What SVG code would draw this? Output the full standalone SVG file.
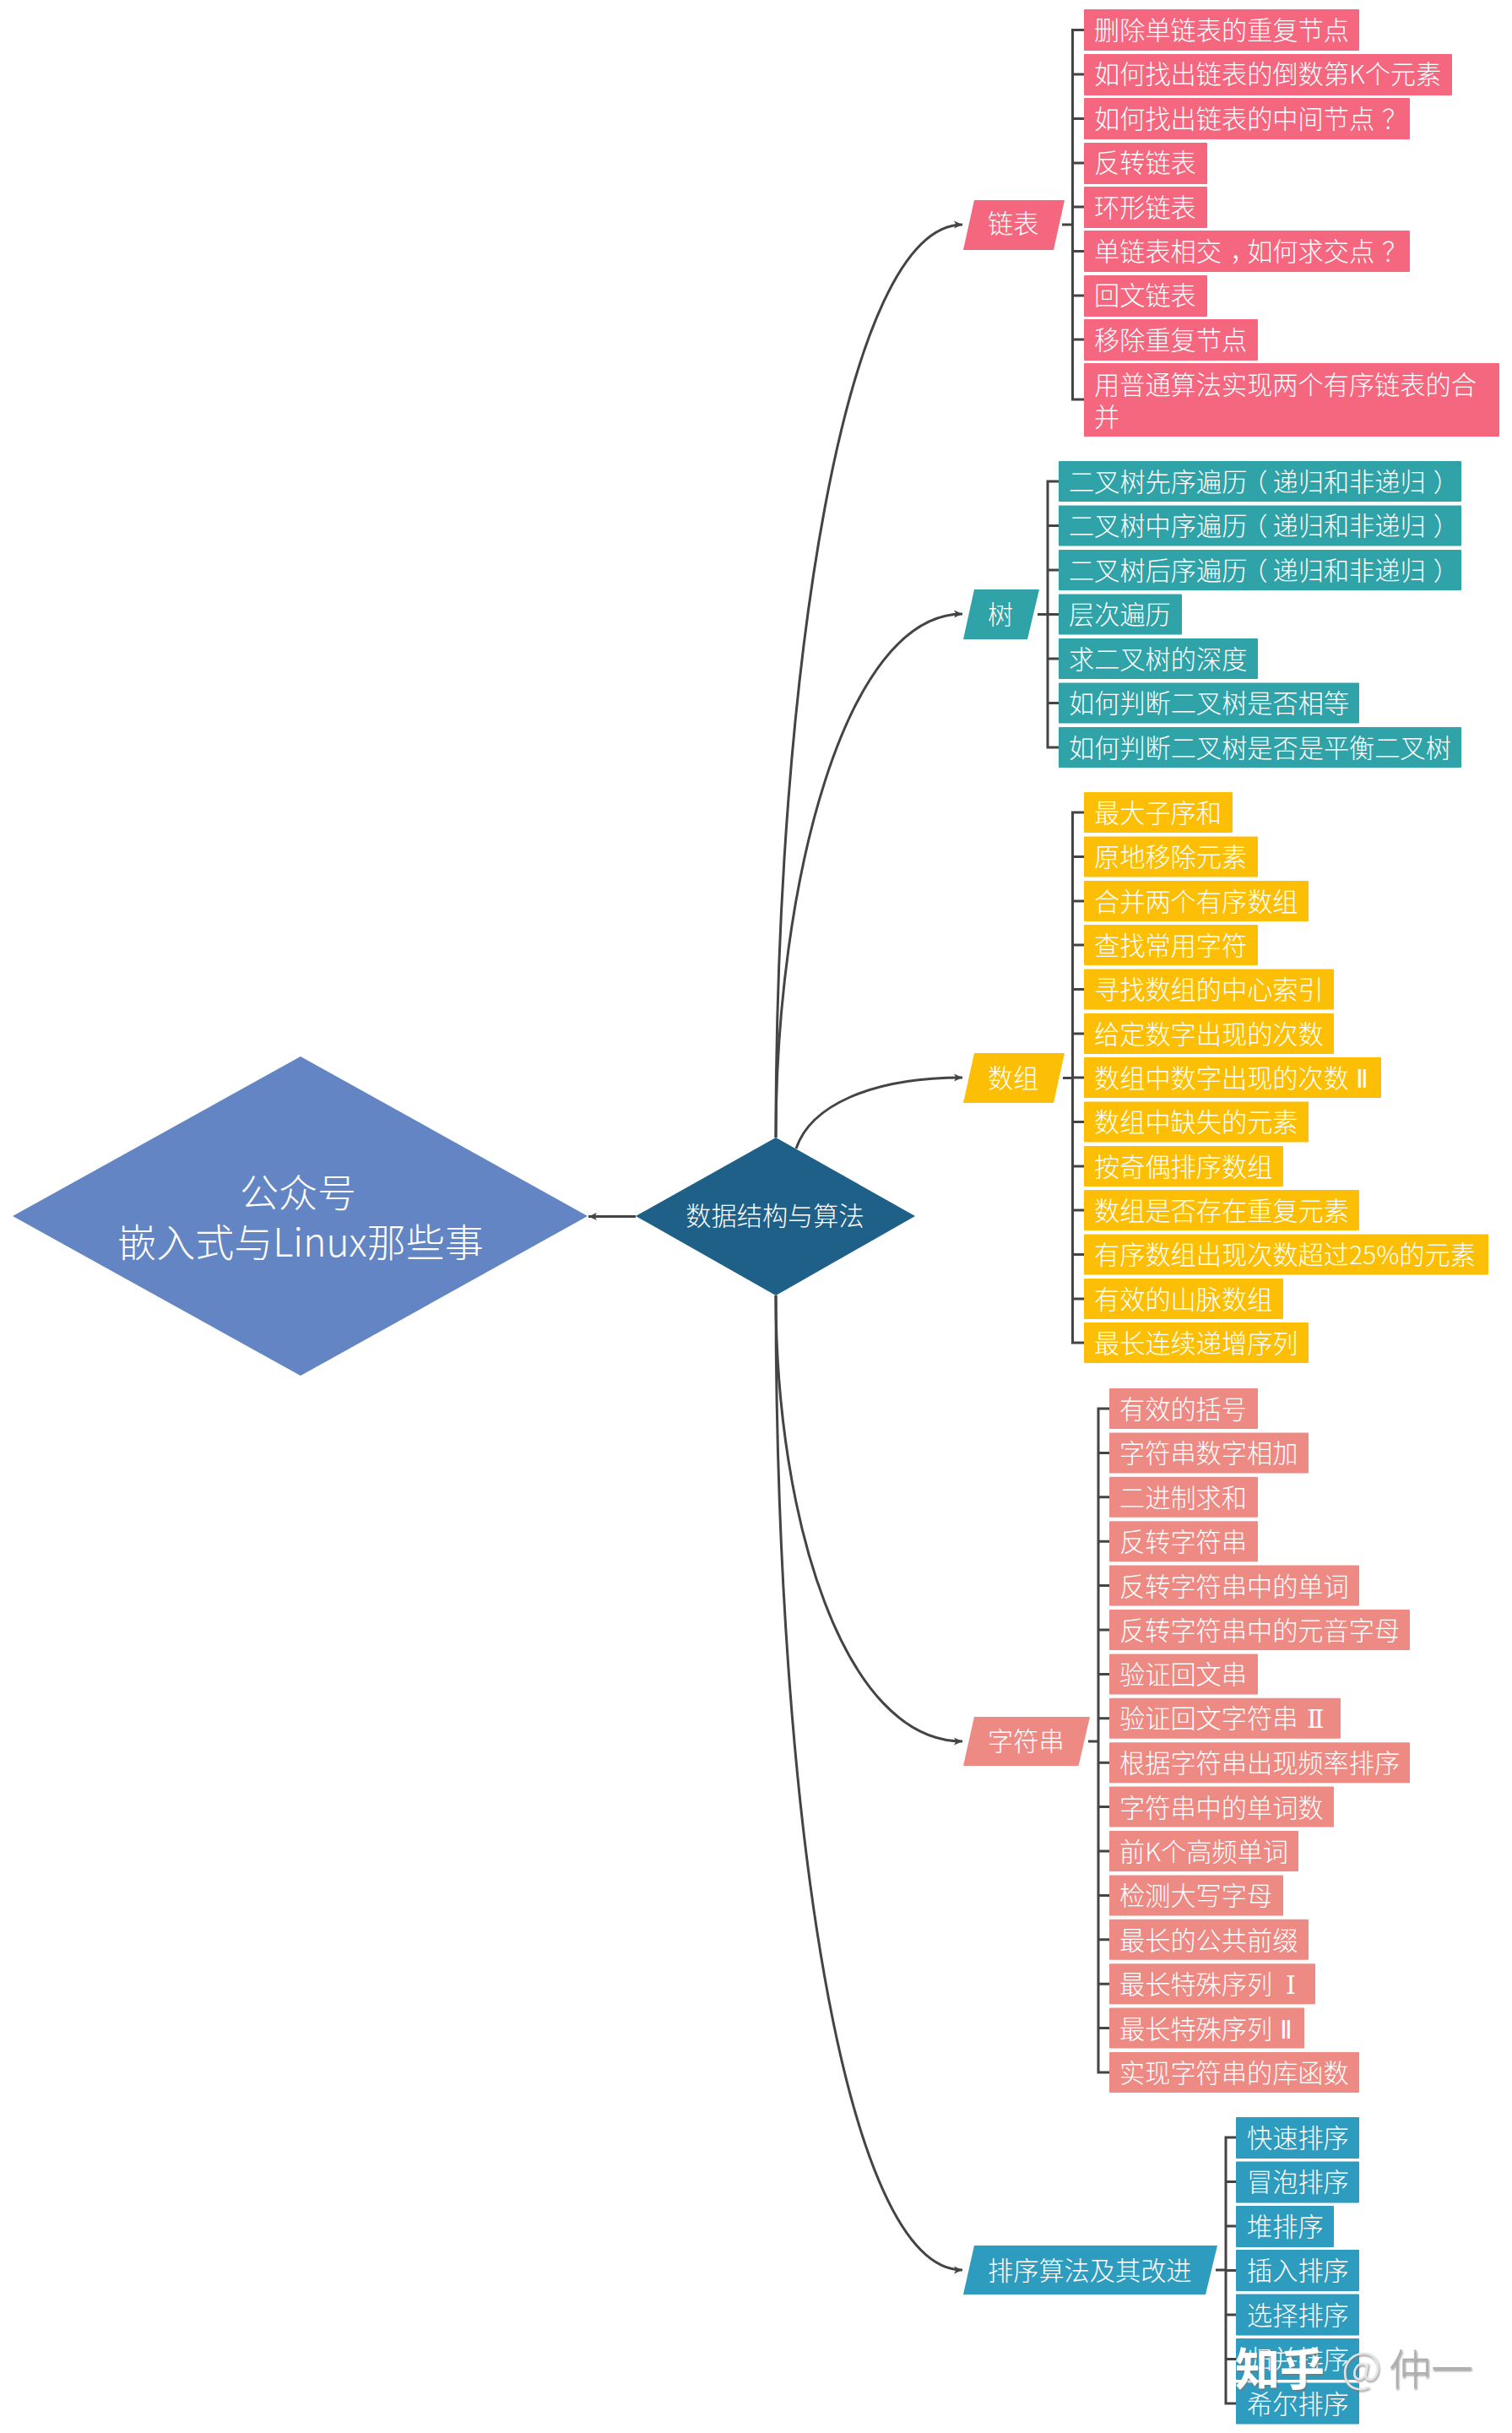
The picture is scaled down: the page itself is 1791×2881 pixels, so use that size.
<svg xmlns="http://www.w3.org/2000/svg" width="1791" height="2881" viewBox="0 0 1791 2881">
<style>
text{font-family:"Noto Sans CJK SC","Liberation Sans",sans-serif;font-weight:300;fill:#fff;font-size:30.2px}
.c{fill:none;stroke:#444;stroke-width:3}
.a{marker-end:url(#ah)}
.lk{fill:#f5667f}.tr{fill:#2fa3a8}.ar{fill:#fdbf05}.st{fill:#ee8a84}.so{fill:#2e9cbe}
.m{text-anchor:middle}
.rn{font-family:"DejaVu Serif",serif}
.rn2{font-family:"Liberation Serif",serif}
</style>
<defs>
<marker id="ah" markerUnits="userSpaceOnUse" markerWidth="12" markerHeight="12" refX="10" refY="6" orient="auto"><path d="M0 1.500L10 6L0 10.500L2.500 6Z" fill="#444"/></marker>
<filter id="sh" x="-10%" y="-10%" width="120%" height="120%"><feDropShadow dx="1" dy="2" stdDeviation="1" flood-color="#777" flood-opacity=".8"/></filter>
</defs>
<g id="connectors">
<path class="c a" d="M753 1440.500H697"/>
<path class="c a" d="M919 1347C919 800 1000 266 1140 266"/>
<path class="c a" d="M919 1347C919 1050 1000 727 1140 727"/>
<path class="c a" d="M943 1360C960 1310 1030 1276 1140 1276"/>
<path class="c a" d="M919 1534C919 1800 1000 2062 1140 2062"/>
<path class="c a" d="M919 1534C919 2150 1000 2688 1140 2688"/>
<path class="c" d="M1258 266H1270.500M1284 35.500H1270.500V473H1284M1270.500 88H1284M1270.500 140.500H1284M1270.500 193H1284M1270.500 245H1284M1270.500 297.500H1284M1270.500 350H1284M1270.500 402H1284"/>
<path class="c" d="M1229 727.500H1241M1254 570H1241V885H1254M1241 622.500H1254M1241 675H1254M1241 727.500H1254M1241 780H1254M1241 832.500H1254"/>
<path class="c" d="M1259 1276.500H1270.500M1284 962H1270.500V1590H1284M1270.500 1014.500H1284M1270.500 1067H1284M1270.500 1119H1284M1270.500 1171.500H1284M1270.500 1224H1284M1270.500 1276H1284M1270.500 1328.500H1284M1270.500 1381H1284M1270.500 1433H1284M1270.500 1485.500H1284M1270.500 1538H1284"/>
<path class="c" d="M1289 2062H1301M1314 1668H1301V2454H1314M1301 1720.400H1314M1301 1772.800H1314M1301 1825.200H1314M1301 1877.600H1314M1301 1930H1314M1301 1982.400H1314M1301 2034.800H1314M1301 2087.200H1314M1301 2139.600H1314M1301 2192H1314M1301 2244.400H1314M1301 2296.800H1314M1301 2349.200H1314M1301 2401.600H1314"/>
<path class="c" d="M1440 2688H1452M1464 2531H1452V2846H1464M1452 2583.500H1464M1452 2636H1464M1452 2688.500H1464M1452 2741H1464M1452 2793.500H1464"/>
</g>
<g id="root"><polygon points="15,1440 356,1251 696,1440 356,1629" fill="#6385c3"/><text class="m" x="353" y="1429" style="font-size:46px">公众号</text><text class="m" x="356" y="1488" style="font-size:46px">嵌入式与Linux那些事</text></g>
<g id="center"><polygon points="753,1440 919,1347 1084,1440 919,1534" fill="#1f6089"/><text class="m" x="918" y="1451">数据结构与算法</text></g>

<g id="p-list"><polygon class="lk" points="1154,237 1261,237 1248,296 1141,296"/><text x="1170" y="276">链表</text></g>
<g id="l1"><rect class="lk" x="1284" y="11" width="326" height="49" rx="1"/><text x="1296" y="47">删除单链表的重复节点</text></g>
<g id="l2"><rect class="lk" x="1284" y="64" width="436" height="49" rx="1"/><text x="1296" y="99">如何找出链表的倒数第K个元素</text></g>
<g id="l3"><rect class="lk" x="1284" y="116" width="386" height="49" rx="1"/><text x="1296" y="152">如何找出链表的中间节点<tspan dx="9">？</tspan></text></g>
<g id="l4"><rect class="lk" x="1284" y="169" width="146" height="49" rx="1"/><text x="1296" y="204">反转链表</text></g>
<g id="l5"><rect class="lk" x="1284" y="221" width="146" height="49" rx="1"/><text x="1296" y="257">环形链表</text></g>
<g id="l6"><rect class="lk" x="1284" y="273" width="386" height="49" rx="1"/><text x="1296" y="309">单链表相交<tspan dx="10">，</tspan><tspan dx="-10">如何求交点</tspan><tspan dx="9">？</tspan></text></g>
<g id="l7"><rect class="lk" x="1284" y="326" width="146" height="49" rx="1"/><text x="1296" y="361">回文链表</text></g>
<g id="l8"><rect class="lk" x="1284" y="378" width="206" height="49" rx="1"/><text x="1296" y="414">移除重复节点</text></g>
<g id="l9"><rect class="lk" x="1284" y="430" width="492" height="87" rx="1"/><text x="1296" y="467">用普通算法实现两个有序链表的合</text><text x="1296" y="505">并</text></g>

<g id="p-tree"><polygon class="tr" points="1154,698 1231,698 1217,757 1141,757"/><text x="1170" y="739">树</text></g>
<g id="t1"><rect class="tr" x="1254" y="546" width="477" height="48" rx="1"/><text x="1266" y="582">二叉树先序遍历<tspan dx="-6">（</tspan><tspan dx="6">递归和非递归</tspan><tspan dx="9">）</tspan></text></g>
<g id="t2"><rect class="tr" x="1254" y="598.500" width="477" height="48" rx="1"/><text x="1266" y="634">二叉树中序遍历<tspan dx="-6">（</tspan><tspan dx="6">递归和非递归</tspan><tspan dx="9">）</tspan></text></g>
<g id="t3"><rect class="tr" x="1254" y="651" width="477" height="48" rx="1"/><text x="1266" y="687">二叉树后序遍历<tspan dx="-6">（</tspan><tspan dx="6">递归和非递归</tspan><tspan dx="9">）</tspan></text></g>
<g id="t4"><rect class="tr" x="1254" y="703.500" width="146" height="48" rx="1"/><text x="1266" y="739">层次遍历</text></g>
<g id="t5"><rect class="tr" x="1254" y="756" width="236" height="48" rx="1"/><text x="1266" y="792">求二叉树的深度</text></g>
<g id="t6"><rect class="tr" x="1254" y="808.500" width="356" height="48" rx="1"/><text x="1266" y="844">如何判断二叉树是否相等</text></g>
<g id="t7"><rect class="tr" x="1254" y="861" width="477" height="48" rx="1"/><text x="1266" y="897">如何判断二叉树是否是平衡二叉树</text></g>

<g id="p-array"><polygon class="ar" points="1154,1247 1261,1247 1248,1306 1141,1306"/><text x="1170" y="1288">数组</text></g>
<g id="a1"><rect class="ar" x="1284" y="938" width="176" height="48" rx="1"/><text x="1296" y="974">最大子序和</text></g>
<g id="a2"><rect class="ar" x="1284" y="990.500" width="206" height="48" rx="1"/><text x="1296" y="1026">原地移除元素</text></g>
<g id="a3"><rect class="ar" x="1284" y="1043" width="266" height="48" rx="1"/><text x="1296" y="1079">合并两个有序数组</text></g>
<g id="a4"><rect class="ar" x="1284" y="1095" width="206" height="48" rx="1"/><text x="1296" y="1131">查找常用字符</text></g>
<g id="a5"><rect class="ar" x="1284" y="1147.500" width="296" height="48" rx="1"/><text x="1296" y="1183">寻找数组的中心索引</text></g>
<g id="a6"><rect class="ar" x="1284" y="1200" width="296" height="48" rx="1"/><text x="1296" y="1236">给定数字出现的次数</text></g>
<g id="a7"><rect class="ar" x="1284" y="1252" width="352" height="48" rx="1"/><text x="1296" y="1288">数组中数字出现的次数 <tspan class="rn2" x="1606">Ⅱ</tspan></text></g>
<g id="a8"><rect class="ar" x="1284" y="1304.500" width="266" height="48" rx="1"/><text x="1296" y="1340">数组中缺失的元素</text></g>
<g id="a9"><rect class="ar" x="1284" y="1357" width="236" height="48" rx="1"/><text x="1296" y="1393">按奇偶排序数组</text></g>
<g id="a10"><rect class="ar" x="1284" y="1409" width="326" height="48" rx="1"/><text x="1296" y="1445">数组是否存在重复元素</text></g>
<g id="a11"><rect class="ar" x="1284" y="1461.500" width="479" height="48" rx="1"/><text x="1296" y="1497">有序数组出现次数超过25%的元素</text></g>
<g id="a12"><rect class="ar" x="1284" y="1514" width="236" height="48" rx="1"/><text x="1296" y="1550">有效的山脉数组</text></g>
<g id="a13"><rect class="ar" x="1284" y="1566" width="266" height="48" rx="1"/><text x="1296" y="1602">最长连续递增序列</text></g>

<g id="p-string"><polygon class="st" points="1154,2033 1291,2033 1277.500,2091 1141,2091"/><text x="1170" y="2073">字符串</text></g>
<g id="s1"><rect class="st" x="1314" y="1644" width="176" height="48" rx="1"/><text x="1326" y="1680">有效的括号</text></g>
<g id="s2"><rect class="st" x="1314" y="1696.400" width="236" height="48" rx="1"/><text x="1326" y="1732">字符串数字相加</text></g>
<g id="s3"><rect class="st" x="1314" y="1748.800" width="176" height="48" rx="1"/><text x="1326" y="1785">二进制求和</text></g>
<g id="s4"><rect class="st" x="1314" y="1801.200" width="176" height="48" rx="1"/><text x="1326" y="1837">反转字符串</text></g>
<g id="s5"><rect class="st" x="1314" y="1853.600" width="296" height="48" rx="1"/><text x="1326" y="1890">反转字符串中的单词</text></g>
<g id="s6"><rect class="st" x="1314" y="1906" width="356" height="48" rx="1"/><text x="1326" y="1942">反转字符串中的元音字母</text></g>
<g id="s7"><rect class="st" x="1314" y="1958.400" width="176" height="48" rx="1"/><text x="1326" y="1994">验证回文串</text></g>
<g id="s8"><rect class="st" x="1314" y="2010.800" width="274" height="48" rx="1"/><text x="1326" y="2046">验证回文字符串 <tspan class="rn" x="1548">Ⅱ</tspan></text></g>
<g id="s9"><rect class="st" x="1314" y="2063.200" width="356" height="48" rx="1"/><text x="1326" y="2099">根据字符串出现频率排序</text></g>
<g id="s10"><rect class="st" x="1314" y="2115.600" width="266" height="48" rx="1"/><text x="1326" y="2152">字符串中的单词数</text></g>
<g id="s11"><rect class="st" x="1314" y="2168" width="224" height="48" rx="1"/><text x="1326" y="2204">前K个高频单词</text></g>
<g id="s12"><rect class="st" x="1314" y="2220.400" width="206" height="48" rx="1"/><text x="1326" y="2256">检测大写字母</text></g>
<g id="s13"><rect class="st" x="1314" y="2272.800" width="236" height="48" rx="1"/><text x="1326" y="2309">最长的公共前缀</text></g>
<g id="s14"><rect class="st" x="1314" y="2325.200" width="244" height="48" rx="1"/><text x="1326" y="2361">最长特殊序列 <tspan class="rn" x="1523">Ⅰ</tspan></text></g>
<g id="s15"><rect class="st" x="1314" y="2377.600" width="231" height="48" rx="1"/><text x="1326" y="2414">最长特殊序列 <tspan class="rn2" x="1516">Ⅱ</tspan></text></g>
<g id="s16"><rect class="st" x="1314" y="2430" width="296" height="48" rx="1"/><text x="1326" y="2466">实现字符串的库函数</text></g>

<g id="p-sort"><polygon class="so" points="1154,2659 1442,2659 1428,2717 1141,2717"/><text x="1170" y="2700">排序算法及其改进</text></g>
<g id="r1"><rect class="so" x="1464" y="2507" width="146" height="49" rx="1"/><text x="1477" y="2543">快速排序</text></g>
<g id="r2"><rect class="so" x="1464" y="2559.500" width="146" height="49" rx="1"/><text x="1477" y="2595">冒泡排序</text></g>
<g id="r3"><rect class="so" x="1464" y="2612" width="116" height="49" rx="1"/><text x="1477" y="2648">堆排序</text></g>
<g id="r4"><rect class="so" x="1464" y="2664" width="146" height="49" rx="1"/><text x="1477" y="2700">插入排序</text></g>
<g id="r5"><rect class="so" x="1464" y="2716.500" width="146" height="49" rx="1"/><text x="1477" y="2753">选择排序</text></g>
<g id="r6"><rect class="so" x="1464" y="2769" width="146" height="49" rx="1"/><text x="1477" y="2805">归并排序</text></g>
<g id="r7"><rect class="so" x="1464" y="2821.500" width="146" height="49" rx="1"/><text x="1477" y="2858">希尔排序</text></g>
<g id="watermark" filter="url(#sh)"><text x="1463" y="2825" style="font-size:53px;font-weight:700">知乎</text><text x="1589" y="2822" style="font-size:52px;fill:#e4e4e4">@</text><text x="1645" y="2824" style="font-size:50px;fill:#b0b0b0">仲一</text></g>
</svg>
